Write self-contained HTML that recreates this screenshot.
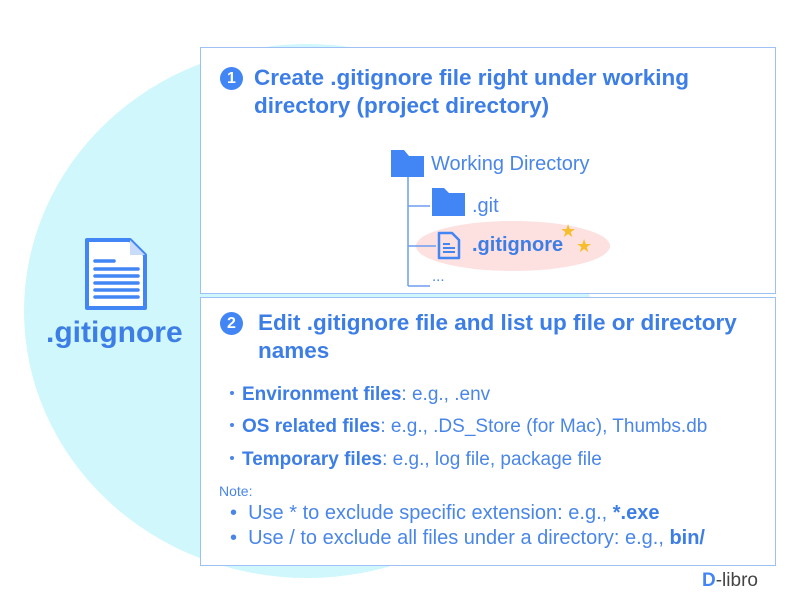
<!DOCTYPE html>
<html><head><meta charset="utf-8"><style>
body{margin:0;width:800px;height:600px;background:#fff;position:relative;overflow:hidden;font-family:"Liberation Sans",sans-serif;color:#4285f4}
.a{position:absolute;white-space:nowrap}
.box{position:absolute;border:1.5px solid #9fc0f5;background:#fff}
.h{font-weight:bold;font-size:22.5px;color:#3d7ee6;line-height:28px}
.num{display:inline-block;width:23px;height:23px;border-radius:50%;background:#4285f4;color:#fff;font-size:16px;text-align:center;line-height:23px;vertical-align:2px;margin-right:11px}
.li{font-size:19px;color:#4a86e8}
.li b{color:#3d7ee6}
.dot{display:inline-block;width:4px;height:4px;border-radius:50%;background:#4a86e8;vertical-align:5px;margin:0 8px 0 4px}
</style></head><body>
<div class="a" style="left:24px;top:44px;width:566px;height:534px;border-radius:50%;background:#cff7fc"></div>
<div class="box" style="left:200px;top:47px;width:574px;height:245px"></div>
<div class="box" style="left:200px;top:297px;width:574px;height:267px"></div>

<svg class="a" style="left:84px;top:237px" width="64" height="74" viewBox="0 0 64 74">
<path d="M3 3 H46 L61 18 V71 H3 Z" fill="#fff" stroke="#4285f4" stroke-width="4" stroke-linejoin="round"/>
<path d="M46 3 V18 H61" fill="#c8dbf9"/>
<g stroke="#4285f4" stroke-width="3.5" stroke-linecap="round">
<line x1="11" y1="24" x2="30" y2="24"/><line x1="11" y1="32" x2="54" y2="32"/><line x1="11" y1="39" x2="54" y2="39"/><line x1="11" y1="46" x2="54" y2="46"/><line x1="11" y1="53" x2="54" y2="53"/><line x1="11" y1="60" x2="54" y2="60"/></g>
</svg>
<div class="a" style="left:46px;top:316px;font-size:30px;font-weight:bold;color:#3d7ee6">.gitignore</div>

<div class="a h" style="left:220px;top:64px"><span class="num">1</span>Create .gitignore file right under working<br><span style="margin-left:34px">directory (project directory)</span></div>

<svg class="a" style="left:380px;top:140px" width="250" height="150">
<ellipse cx="133" cy="106" rx="97" ry="25" fill="#fde0e0"/>
<g stroke="#6d9eef" stroke-width="1.5"><line x1="28" y1="30" x2="28" y2="146"/><line x1="28" y1="66" x2="50" y2="66"/><line x1="28" y1="106" x2="56" y2="106"/><line x1="28" y1="146" x2="50" y2="146"/></g>
<path d="M11 10 H24 L29 16 H44 V37 H11 Z" fill="#4285f4"/>
<path d="M52 48 H64 L69 53 H85 V76 H52 Z" fill="#4285f4"/>
<path d="M59 93 H72 L79 100 V118 H59 Z" fill="none" stroke="#4285f4" stroke-width="2.5" stroke-linejoin="round"/>
<g stroke="#4285f4" stroke-width="2"><line x1="63" y1="104" x2="70" y2="104"/><line x1="63" y1="108" x2="75" y2="108"/><line x1="63" y1="112" x2="75" y2="112"/></g>
<text x="180" y="97" font-size="18" fill="#f6be2c">★</text>
<text x="196" y="112" font-size="18" fill="#f6be2c">★</text>
</svg>
<div class="a" style="left:431px;top:153px;font-size:20px;color:#4a86e8">Working Directory</div>
<div class="a" style="left:472px;top:195px;font-size:20px;color:#4a86e8">.git</div>
<div class="a" style="left:472px;top:234px;font-size:20px;font-weight:bold;color:#3d7ee6">.gitignore</div>
<div class="a" style="left:432px;top:268px;font-size:15px;color:#4a86e8">...</div>

<div class="a h" style="left:220px;top:309px"><span class="num">2</span><span style="margin-left:4px">Edit .gitignore file and list up file or directory</span><br><span style="margin-left:38px">names</span></div>

<div class="a li" style="left:226px;top:384px"><span class="dot"></span><b>Environment files</b>: e.g., .env</div>
<div class="a li" style="left:226px;top:416px"><span class="dot"></span><b>OS related files</b>: e.g., .DS_Store (for Mac), Thumbs.db</div>
<div class="a li" style="left:226px;top:449px"><span class="dot"></span><b>Temporary files</b>: e.g., log file, package file</div>
<div class="a" style="left:219px;top:483px;font-size:14px;color:#4a86e8">Note:</div>
<div class="a li" style="left:230px;top:502px;font-size:20px">•&nbsp; Use * to exclude specific extension: e.g., <b>*.exe</b></div>
<div class="a li" style="left:230px;top:527px;font-size:20px">•&nbsp; Use / to exclude all files under a directory: e.g., <b>bin/</b></div>

<div class="a" style="left:702px;top:570px;font-size:19px;font-weight:bold;color:#4285f4">D<span style="color:#444;font-weight:normal">-libro</span></div>
</body></html>
